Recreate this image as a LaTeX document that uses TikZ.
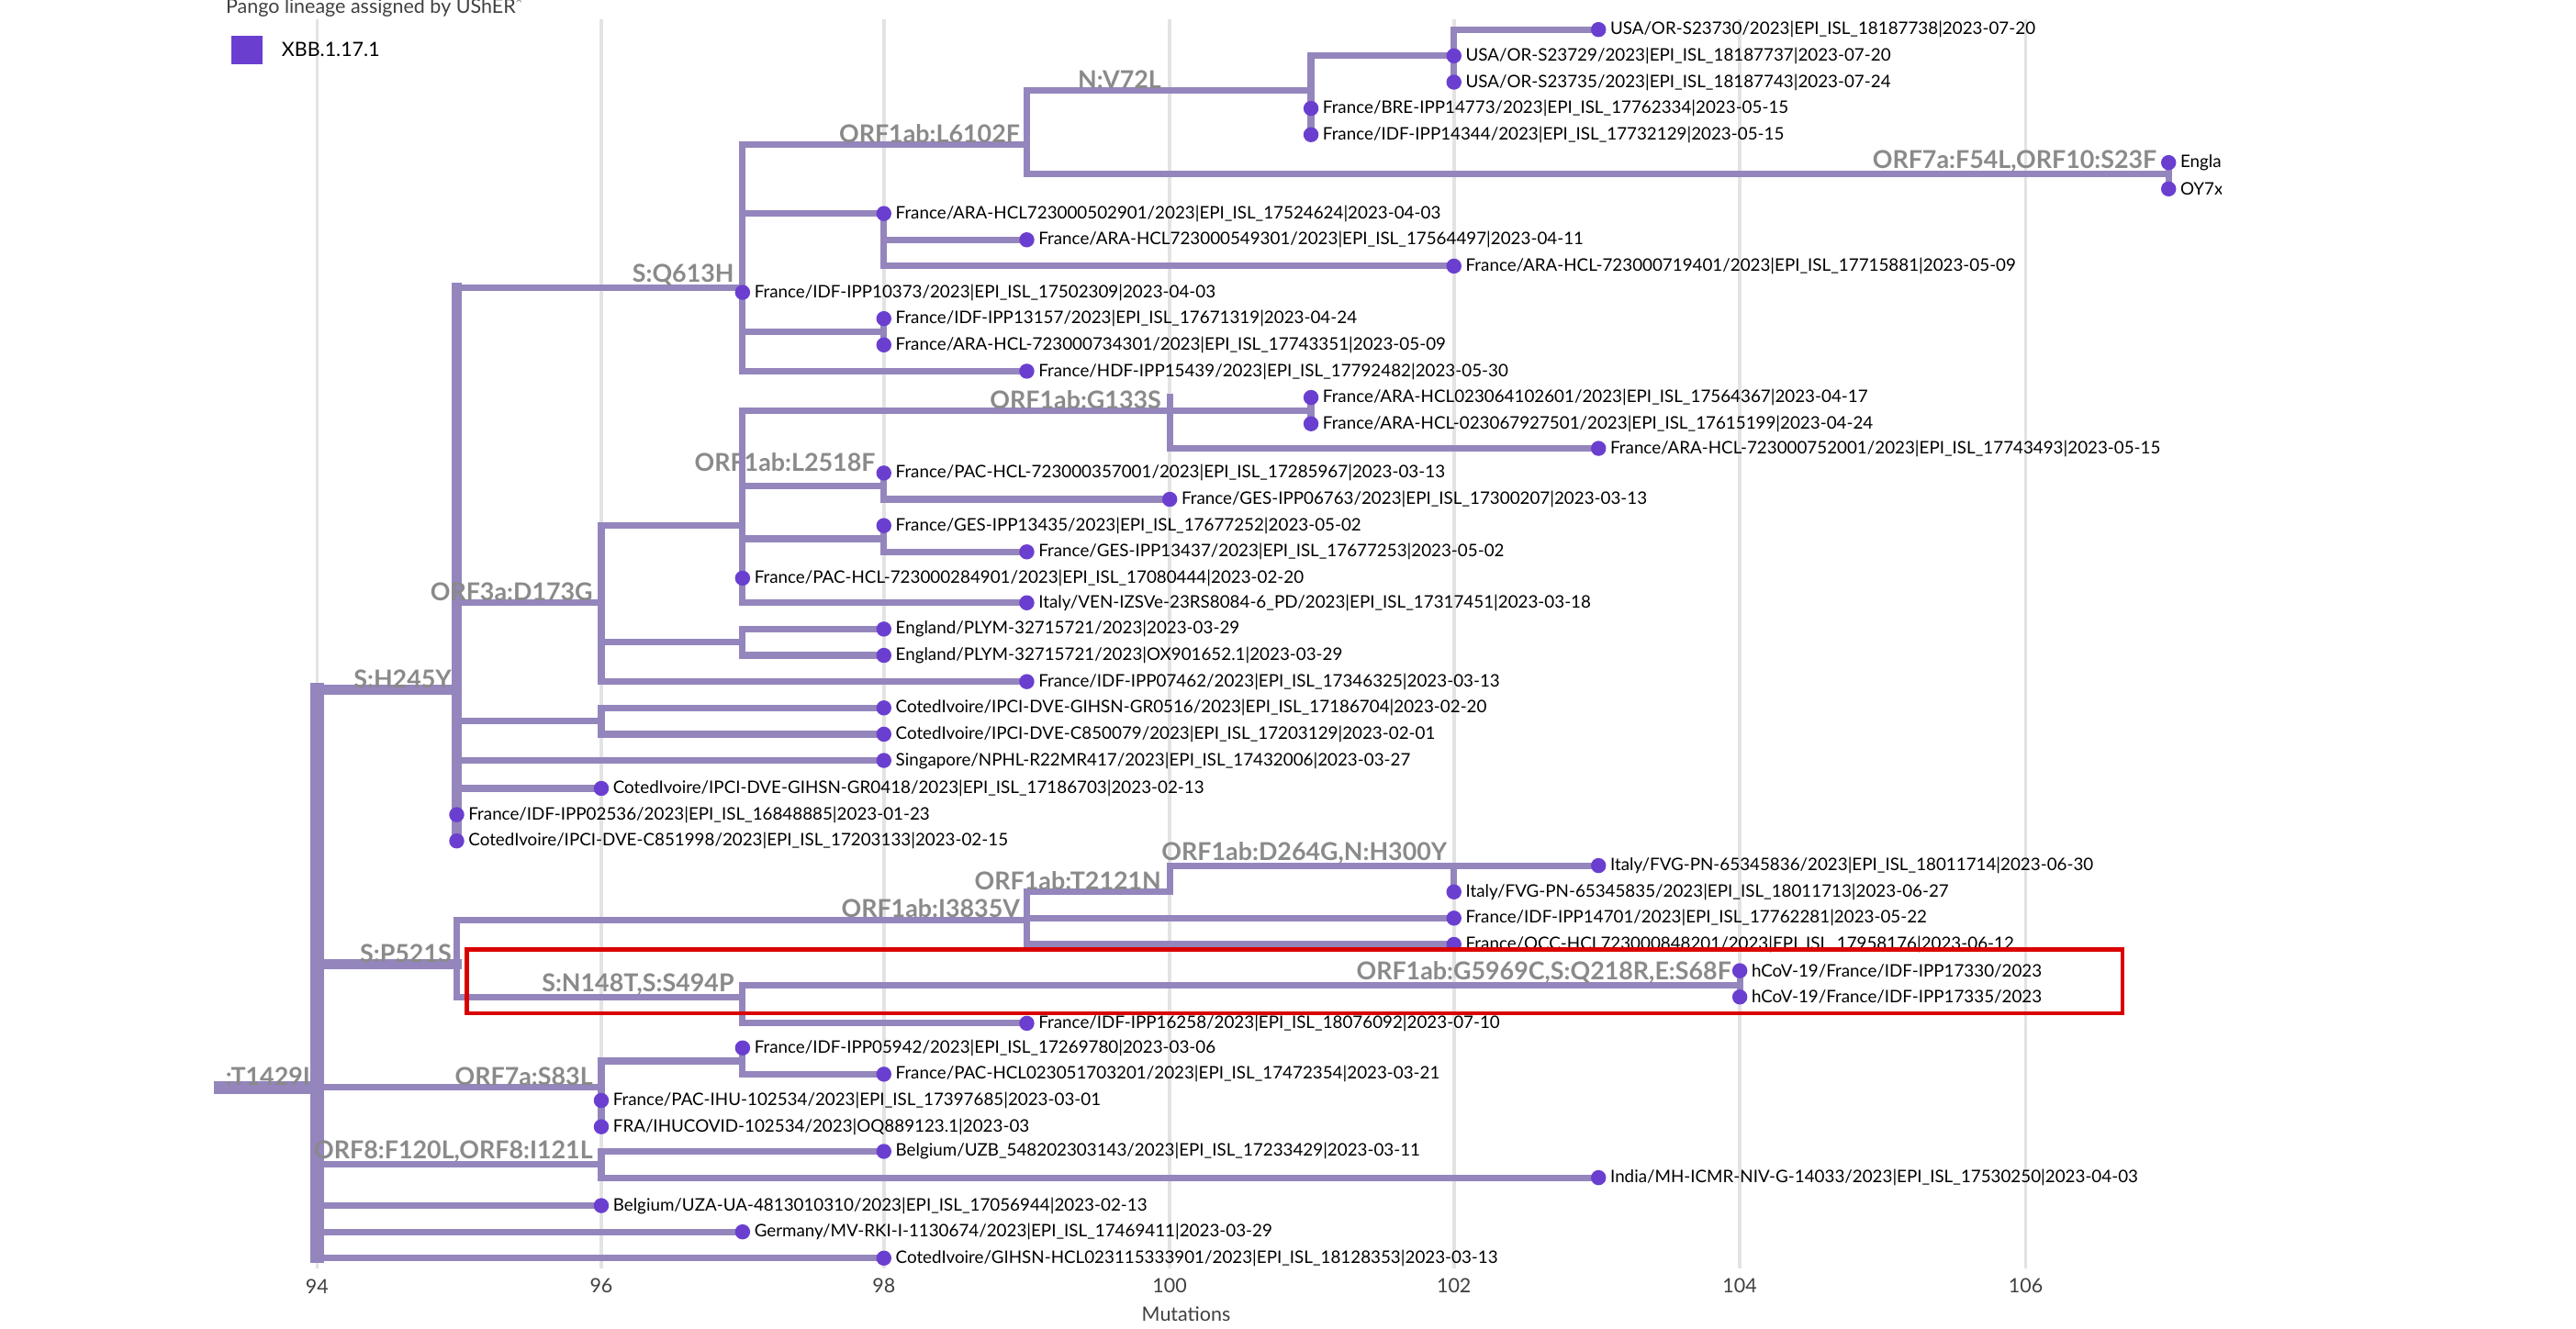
\documentclass[tikz,border=0pt]{standalone}
\usepackage{fontspec}
\setmainfont{Lato}
\definecolor{br}{HTML}{9485BD}
\definecolor{dot}{HTML}{6A3FD0}
\definecolor{lab}{HTML}{8A8A8A}
\tikzset{
 b/.style={draw=br,line width=4pt,line cap=butt,line join=miter},
 bt/.style={draw=br,line width=8pt},
 bm/.style={draw=br,line width=6pt},
 leaftxt/.style={anchor=west,font=\fontsize{10.5}{12}\selectfont,inner sep=0pt,xshift=7pt},
 mut/.style={anchor=south east,font=\fontsize{15}{16}\selectfont\bfseries,text=lab,inner sep=1pt},
}
\newcommand{\lf}[3]{\fill[dot] (#1,#2) circle (4.6pt); \node[leaftxt] at (#1,#2) {#3};}
\begin{document}
\begin{tikzpicture}[x=1pt,y=-1pt]
\useasboundingbox (0,0) rectangle (1568,809);
\foreach \g in {193,366,538,712,885,1059,1233} \draw[gray!22,line width=2pt] (\g,12) -- (\g,772);
% legend
\node[anchor=west,font=\fontsize{12}{13}\selectfont,text=black!75] at (134,5) {Pango lineage assigned by UShER\,$\hat{}$};
\fill[dot] (141,22) rectangle (160,39);
\node[anchor=west,font=\fontsize{12}{13}\selectfont] at (168,30) {XBB.1.17.1};
% axis
\foreach \x/\l in {193/94,366/96,538/98,712/100,885/102,1059/104,1233/106}
 \node[font=\fontsize{12}{13}\selectfont,text=black!75] at (\x,783) {\l};
\node[font=\fontsize{12}{13}\selectfont,text=black!75] at (722,800) {Mutations};
% root and trunk
\draw[bt] (130,662) -- (197,662);
\draw[bt] (193,416) -- (193,769);
\node[mut] at (190,662) {:T1429I};
% S:H245Y
\draw[bm] (193,420) -- (281,420); \node[mut] at (276,420) {S:H245Y};
\draw[bm] (278,172) -- (278,515);
% S:Q613H
\draw[b] (278,175) -- (454,175); \node[mut] at (448,175) {S:Q613H};
\draw[b] (452,86) -- (452,228);
\draw[b] (452,88) -- (627,88); \node[mut] at (622,88) {ORF1ab:L6102F};
\draw[b] (625,53) -- (625,108);
\draw[b] (625,55) -- (800,55); \node[mut] at (708,55) {N:V72L};
\draw[b] (798,32) -- (798,84);
\draw[b] (798,34) -- (887,34); \draw[b] (885,16) -- (885,52);
\draw[b] (885,18) -- (973,18); \lf{973}{18}{USA/OR-S23730/2023|EPI\_ISL\_18187738|2023-07-20}
\lf{885}{34}{USA/OR-S23729/2023|EPI\_ISL\_18187737|2023-07-20}
\draw[b] (885,50) -- (885,50); \lf{885}{50}{USA/OR-S23735/2023|EPI\_ISL\_18187743|2023-07-24}
\draw[b] (798,66) -- (798,66); \draw[b] (798,66) -- (798,66);
\lf{798}{66}{France/BRE-IPP14773/2023|EPI\_ISL\_17762334|2023-05-15}
\lf{798}{82}{France/IDF-IPP14344/2023|EPI\_ISL\_17732129|2023-05-15}
\draw[b] (625,106) -- (1322,106); \node[mut] at (1314,106) {ORF7a:F54L,ORF10:S23F};
\draw[b] (1320,97) -- (1320,117);
\begin{scope}
\clip (0,0) rectangle (1352,809);
\lf{1320}{99}{England/xxxx}
\lf{1320}{115}{OY7xxxxx}
\end{scope}
\draw[b] (452,130) -- (540,130); \draw[b] (538,128) -- (538,164);
\draw[b] (538,146) -- (625,146); \draw[b] (538,162) -- (885,162);
\lf{538}{130}{France/ARA-HCL723000502901/2023|EPI\_ISL\_17524624|2023-04-03}
\lf{625}{146}{France/ARA-HCL723000549301/2023|EPI\_ISL\_17564497|2023-04-11}
\lf{885}{162}{France/ARA-HCL-723000719401/2023|EPI\_ISL\_17715881|2023-05-09}
\lf{452}{178}{France/IDF-IPP10373/2023|EPI\_ISL\_17502309|2023-04-03}
\draw[b] (452,202) -- (540,202); \draw[b] (538,192) -- (538,212); \draw[b] (452,226) -- (625,226);
\lf{538}{194}{France/IDF-IPP13157/2023|EPI\_ISL\_17671319|2023-04-24}
\lf{538}{210}{France/ARA-HCL-723000734301/2023|EPI\_ISL\_17743351|2023-05-09}
\lf{625}{226}{France/HDF-IPP15439/2023|EPI\_ISL\_17792482|2023-05-30}
% ORF3a:D173G
\draw[b] (278,367) -- (368,367); \node[mut] at (362,367) {ORF3a:D173G};
\draw[b] (366,318) -- (366,417);
\draw[b] (366,320) -- (454,320); \node[mut] at (534,288) {ORF1ab:L2518F};
\draw[b] (452,248) -- (452,369);
\draw[b] (452,250) -- (714,250); \node[mut] at (708,250) {ORF1ab:G133S};
\draw[b] (712,240) -- (712,275);
\draw[b] (712,250) -- (800,250); \draw[b] (798,240) -- (798,260);
\lf{798}{242}{France/ARA-HCL023064102601/2023|EPI\_ISL\_17564367|2023-04-17}
\lf{798}{258}{France/ARA-HCL-023067927501/2023|EPI\_ISL\_17615199|2023-04-24}
\draw[b] (712,273) -- (973,273);
\lf{973}{273}{France/ARA-HCL-723000752001/2023|EPI\_ISL\_17743493|2023-05-15}
\draw[b] (452,296) -- (540,296); \draw[b] (538,286) -- (538,306); \draw[b] (538,304) -- (712,304);
\lf{538}{288}{France/PAC-HCL-723000357001/2023|EPI\_ISL\_17285967|2023-03-13}
\lf{712}{304}{France/GES-IPP06763/2023|EPI\_ISL\_17300207|2023-03-13}
\draw[b] (452,328) -- (540,328); \draw[b] (538,318) -- (538,338); \draw[b] (538,336) -- (625,336);
\lf{538}{320}{France/GES-IPP13435/2023|EPI\_ISL\_17677252|2023-05-02}
\lf{625}{336}{France/GES-IPP13437/2023|EPI\_ISL\_17677253|2023-05-02}
\lf{452}{352}{France/PAC-HCL-723000284901/2023|EPI\_ISL\_17080444|2023-02-20}
\draw[b] (452,367) -- (625,367);
\lf{625}{367}{Italy/VEN-IZSVe-23RS8084-6\_PD/2023|EPI\_ISL\_17317451|2023-03-18}
\draw[b] (366,391) -- (454,391); \draw[b] (452,381) -- (452,401); \draw[b] (452,383) -- (538,383); \draw[b] (452,399) -- (538,399);
\lf{538}{383}{England/PLYM-32715721/2023|2023-03-29}
\lf{538}{399}{England/PLYM-32715721/2023|OX901652.1|2023-03-29}
\draw[b] (366,415) -- (625,415);
\lf{625}{415}{France/IDF-IPP07462/2023|EPI\_ISL\_17346325|2023-03-13}
\draw[b] (278,439) -- (368,439); \draw[b] (366,429) -- (366,449); \draw[b] (366,431) -- (538,431); \draw[b] (366,447) -- (538,447);
\lf{538}{431}{CotedIvoire/IPCI-DVE-GIHSN-GR0516/2023|EPI\_ISL\_17186704|2023-02-20}
\lf{538}{447}{CotedIvoire/IPCI-DVE-C850079/2023|EPI\_ISL\_17203129|2023-02-01}
\draw[b] (278,463) -- (538,463);
\lf{538}{463}{Singapore/NPHL-R22MR417/2023|EPI\_ISL\_17432006|2023-03-27}
\draw[b] (278,480) -- (366,480);
\lf{366}{480}{CotedIvoire/IPCI-DVE-GIHSN-GR0418/2023|EPI\_ISL\_17186703|2023-02-13}
\lf{278}{496}{France/IDF-IPP02536/2023|EPI\_ISL\_16848885|2023-01-23}
\lf{278}{512}{CotedIvoire/IPCI-DVE-C851998/2023|EPI\_ISL\_17203133|2023-02-15}
% S:P521S
\draw[bm] (193,587) -- (281,587); \node[mut] at (276,587) {S:P521S};
\draw[b] (278,558) -- (278,609);
\draw[b] (278,560) -- (627,560); \node[mut] at (622,560) {ORF1ab:I3835V};
\draw[b] (625,541) -- (625,577);
\draw[b] (625,543) -- (714,543); \node[mut] at (708,543) {ORF1ab:T2121N};
\draw[b] (712,525) -- (712,545);
\draw[b] (712,527) -- (887,527); \node[mut] at (882,527) {ORF1ab:D264G,N:H300Y};
\draw[b] (885,525) -- (885,545); \draw[b] (885,527) -- (973,527);
\lf{973}{527}{Italy/FVG-PN-65345836/2023|EPI\_ISL\_18011714|2023-06-30}
\lf{885}{543}{Italy/FVG-PN-65345835/2023|EPI\_ISL\_18011713|2023-06-27}
\draw[b] (625,559) -- (885,559); \draw[b] (625,575) -- (885,575);
\lf{885}{559}{France/IDF-IPP14701/2023|EPI\_ISL\_17762281|2023-05-22}
\lf{885}{575}{France/OCC-HCL723000848201/2023|EPI\_ISL\_17958176|2023-06-12}
\draw[b] (278,607) -- (454,607); \node[mut] at (448,607) {S:N148T,S:S494P};
\draw[b] (452,598) -- (452,625);
\draw[b] (452,600) -- (1061,600); \node[mut] at (1055,600) {ORF1ab:G5969C,S:Q218R,E:S68F};
\draw[b] (1059,589) -- (1059,609);
\lf{1059}{591}{hCoV-19/France/IDF-IPP17330/2023}
\lf{1059}{607}{hCoV-19/France/IDF-IPP17335/2023}
\draw[b] (452,623) -- (625,623);
\lf{625}{623}{France/IDF-IPP16258/2023|EPI\_ISL\_18076092|2023-07-10}
\draw[red!85!black,line width=2.6pt] (284,578) rectangle (1292,617);
% ORF7a:S83L
\draw[b] (193,662) -- (368,662); \node[mut] at (362,662) {ORF7a:S83L};
\draw[b] (366,644) -- (366,688);
\draw[b] (366,646) -- (454,646); \draw[b] (452,636) -- (452,656); \draw[b] (452,654) -- (538,654);
\lf{452}{638}{France/IDF-IPP05942/2023|EPI\_ISL\_17269780|2023-03-06}
\lf{538}{654}{France/PAC-HCL023051703201/2023|EPI\_ISL\_17472354|2023-03-21}
\lf{366}{670}{France/PAC-IHU-102534/2023|EPI\_ISL\_17397685|2023-03-01}
\lf{366}{686}{FRA/IHUCOVID-102534/2023|OQ889123.1|2023-03}
\draw[b] (193,709) -- (368,709); \node[mut] at (362,709) {ORF8:F120L,ORF8:I121L};
\draw[b] (366,699) -- (366,719); \draw[b] (366,701) -- (538,701); \draw[b] (366,717) -- (973,717);
\lf{538}{701}{Belgium/UZB\_548202303143/2023|EPI\_ISL\_17233429|2023-03-11}
\lf{973}{717}{India/MH-ICMR-NIV-G-14033/2023|EPI\_ISL\_17530250|2023-04-03}
\draw[b] (193,734) -- (366,734); \lf{366}{734}{Belgium/UZA-UA-4813010310/2023|EPI\_ISL\_17056944|2023-02-13}
\draw[b] (193,750) -- (452,750); \lf{452}{750}{Germany/MV-RKI-I-1130674/2023|EPI\_ISL\_17469411|2023-03-29}
\draw[b] (193,766) -- (538,766); \lf{538}{766}{CotedIvoire/GIHSN-HCL023115333901/2023|EPI\_ISL\_18128353|2023-03-13}
\end{tikzpicture}
\end{document}
